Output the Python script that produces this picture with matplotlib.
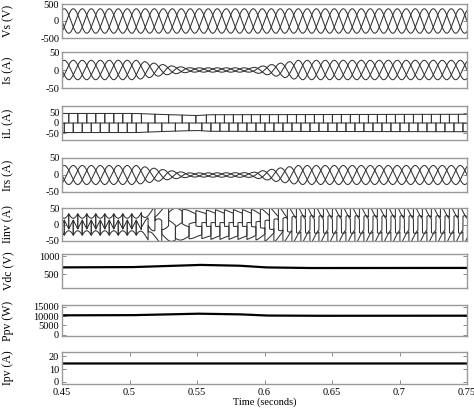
# grid-tied PV system waveforms, 0.45 - 0.75 s
import numpy as np
import matplotlib
matplotlib.use('Agg')
import matplotlib.pyplot as plt

plt.rcParams['font.family'] = ['Liberation Serif', 'DejaVu Serif']

F_GRID = 50  # Hz

# envelopes (time in s, amplitude)
vs_amp = 360

is_t = [0.45, 0.505, 0.53, 0.545, 0.59, 0.61, 0.625, 0.75]
is_amp = [27, 27, 12, 6, 6, 18, 27, 27]

irs_t = [0.45, 0.505, 0.53, 0.545, 0.59, 0.61, 0.625, 0.75]
irs_amp = [28, 28, 13, 6, 7, 20, 28, 28]

il_t = [0.45, 0.505, 0.52, 0.55, 0.56, 0.75]
il_amp = [46, 46, 42, 36, 40, 42]
il_freq_t = [0.45, 0.505, 0.51, 0.55, 0.555, 0.75]
il_freq = [50, 50, 33, 33, 50, 50]

vdc_t = [0.45, 0.50, 0.52, 0.55, 0.58, 0.60, 0.63, 0.75]
vdc = [690, 695, 720, 760, 740, 690, 672, 675]

ppv_t = [0.45, 0.50, 0.52, 0.55, 0.58, 0.60, 0.63, 0.75]
ppv = [10400, 10450, 10800, 11300, 11000, 10300, 10150, 10200]

ipv_t = [0.45, 0.75]
ipv = [14.3, 14.3]

xticks = [0.45, 0.5, 0.55, 0.6, 0.65, 0.7, 0.75]
xticklabels = ['0.45', '0.5', '0.55', '0.6', '0.65', '0.7', '0.75']

t = np.linspace(0.45, 0.75, 6000)
shifts = [0, -2 * np.pi / 3, 2 * np.pi / 3]
theta = 2 * np.pi * F_GRID * t

# load current phase follows its own frequency profile
f_il = np.interp(t, il_freq_t, il_freq)
theta_il = theta[0] + np.concatenate([[0], np.cumsum(2 * np.pi * f_il[:-1] * np.diff(t))])


def square120(th):
    s = np.sin(th)
    return np.where(s > 0.5, 1.0, np.where(s < -0.5, -1.0, 0.0))


vs = [vs_amp * np.sin(theta + p) for p in shifts]
is_ = [np.interp(t, is_t, is_amp) * np.sin(theta + p) for p in shifts]
irs = [np.interp(t, irs_t, irs_amp) * np.sin(theta + p) for p in shifts]
il = [np.interp(t, il_t, il_amp) * square120(theta_il + p) for p in shifts]
iinv = [il[k] - is_[k] for k in range(3)]

fig = plt.figure(figsize=(4.74, 4.09), dpi=100)
H = 409.0
W = 474.0
X0, X1 = 62, 467
boxes = [(4, 38), (52, 88), (106, 140), (158, 192), (208, 241), (254, 288), (305, 336), (352, 384)]
panels = [
    ('Vs (V)', vs, (-500, 500), [-500, 0, 500]),
    ('Is (A)', is_, (-50, 50), [-50, 0, 50]),
    ('iL (A)', il, (-82, 82), [-50, 0, 50]),
    ('Irs (A)', irs, (-50, 50), [-50, 0, 50]),
    ('Iinv (A)', iinv, (-50, 50), [-50, 0, 50]),
    ('Vdc (V)', [np.interp(t, vdc_t, vdc)], (120, 1060), [500, 1000]),
    ('Ppv (W)', [np.interp(t, ppv_t, ppv)], (-800, 16000), [0, 5000, 10000, 15000]),
    ('Ipv (A)', [np.interp(t, ipv_t, ipv)], (-1.6, 23.2), [0, 10, 20]),
]

for i, (label, curves, ylim, yt) in enumerate(panels):
    top, bot = boxes[i]
    ax = fig.add_axes([X0 / W, 1 - bot / H, (X1 - X0) / W, (bot - top) / H])
    single = len(curves) == 1
    for c in curves:
        ax.plot(t, c, color='black' if single else '#333333', lw=1.6 if single else 0.75)
    ax.set_xlim(0.45, 0.75)
    ax.set_ylim(*ylim)
    ax.set_yticks(yt)
    ax.set_yticklabels([str(v) for v in yt])
    ax.set_ylabel(label, fontsize=8.5)
    ax.yaxis.set_label_coords(-48 / (X1 - X0), 0.5)
    ax.tick_params(axis='both', direction='in', length=3, width=0.6, color='#777',
                   labelsize=7.5, pad=2, right=True, top=(i == 7))
    for s in ax.spines.values():
        s.set_color('#999')
        s.set_linewidth(1.0)
    if i == 7:
        ax.set_xticks(xticks)
        ax.set_xticklabels(xticklabels)
        ax.tick_params(axis='x', pad=3)
        ax.set_xlabel('Time (seconds)', fontsize=7.5, labelpad=0)
    else:
        ax.set_xticks([])

fig.savefig('out.png', dpi=100)
